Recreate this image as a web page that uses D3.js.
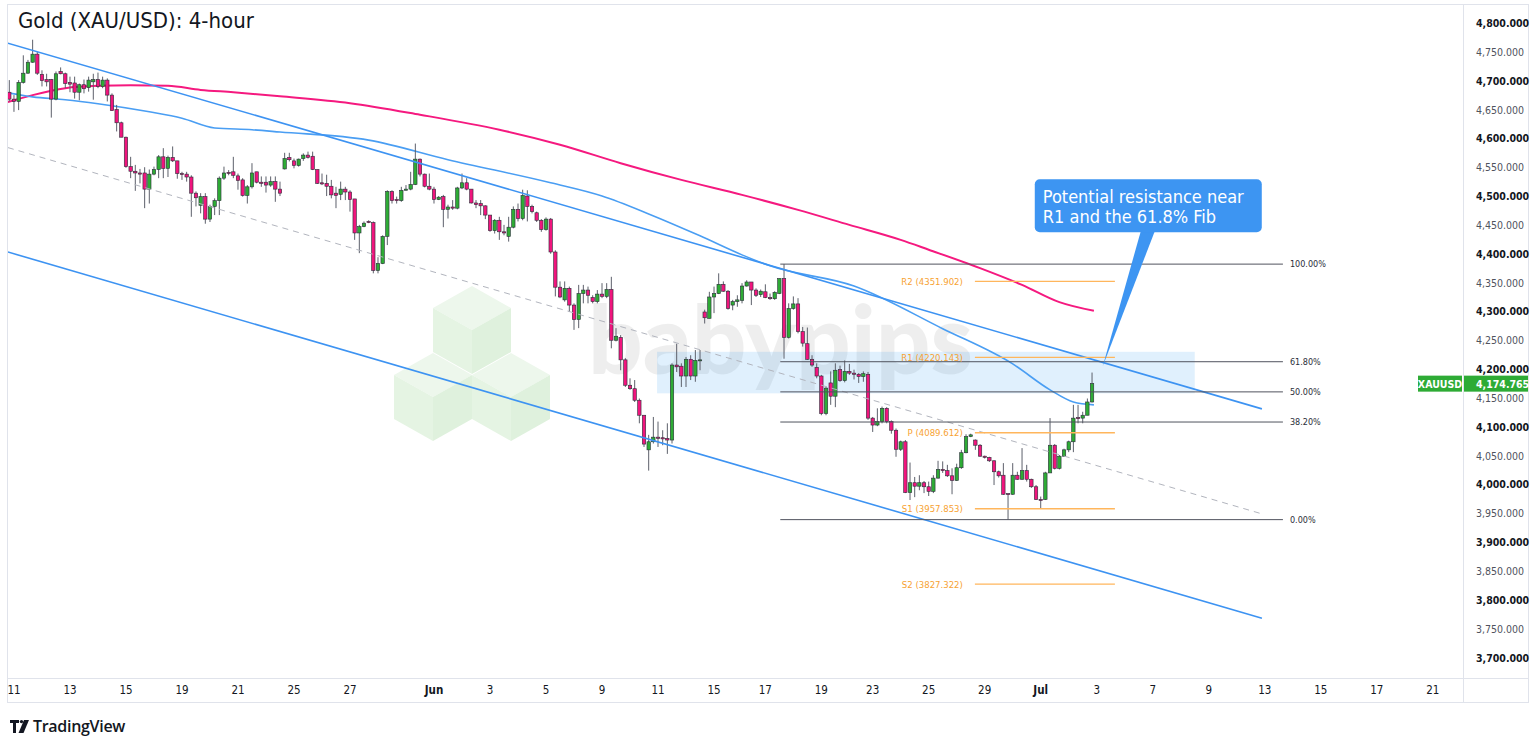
<!DOCTYPE html>
<html>
<head>
<meta charset="utf-8">
<title>Gold (XAU/USD): 4-hour</title>
<script src="https://cdn.jsdelivr.net/npm/d3@7"></script>
<style>
  body { margin: 0; background: #ffffff; }
  svg { display: block; }
</style>
</head>
<body>
<div id="chart"></div>
<script>
// 4-hour candles starting May 11
var opens = [
  4680,4668,4664,4697,4713,4732,4746,4711,4702,4702,
  4668,4716,4712,4697,4696,4680,4693,4688,4698,4702,
  4690,4701,4675,4650,4627,4602,4551,4543,4540,4540,
  4512,4538,4546,4568,4548,4567,4561,4539,4538,4533,
  4505,4484,4499,4460,4482,4492,4531,4541,4542,4535,
  4528,4501,4516,4542,4524,4524,4519,4525,4512,
  4547,4567,4561,4553,4565,4571,4569,4546,4523,4522,
  4517,4505,4503,4512,4507,4495,4436,4447,4456,4454,
  4371,4383,4430,4508,4494,4492,4510,4512,4520,4564,
  4538,4517,4512,4494,4499,4477,4481,4479,4514,4523,
  4512,4488,4487,4483,4467,4440,4458,4438,4430,4446,
  4477,4461,4500,4482,4471,4458,4442,4460,
  4403,4342,4320,4340,4311,4286,4331,4337,4324,4317,
  4330,4326,4338,4250,4255,4216,4172,4166,4146,4120,
  4060,4074,4082,4081,4080,4077,4207,4205,4188,4217,
  4188,4215,4299,4288,4325,4331,4347,4335,4311,4317,
  4319,4344,4351,4337,4329,4334,4324,4322,4331,4357,
  4255,4305,4313,4265,4244,4217,4203,4188,
  4123,4176,4153,4199,4180,4196,4193,4191,4187,4191,
  4115,4103,4109,4132,4109,4094,4061,4074,3986,4003,
  3997,4003,3996,3988,4011,4026,4024,4015,4007,4029,
  4055,4083,4077,4068,4049,4047,4041,4022,4016,3984,
  3983,4016,4009,4024,4009,3996,3974,3974,4020,4068,
  4028,4049,4060,4074,4116,4115,4120,4143
];
var highs = [
  4701,4675,4701,4744,4736,4771,4750,4718,4712,4703,
  4716,4723,4714,4707,4707,4695,4702,4707,4712,4714,
  4707,4704,4678,4658,4629,4603,4568,4554,4547,4550,
  4546,4551,4571,4583,4570,4586,4561,4542,4542,4536,
  4508,4505,4505,4485,4496,4534,4551,4545,4568,4539,
  4531,4519,4557,4542,4534,4534,4534,4534,4525,
  4575,4575,4565,4565,4574,4577,4577,4546,4539,4537,
  4528,4516,4525,4516,4510,4495,4450,4456,4458,4456,
  4394,4432,4510,4510,4499,4516,4519,4542,4591,4565,
  4539,4539,4516,4500,4502,4485,4493,4516,4539,4531,
  4512,4493,4493,4484,4467,4460,4464,4450,4464,4482,
  4487,4511,4510,4485,4473,4460,4463,4462,
  4406,4352,4352,4343,4314,4346,4346,4343,4328,4337,
  4349,4349,4360,4271,4259,4219,4184,4181,4149,4120,
  4086,4117,4109,4094,4106,4210,4244,4210,4221,4224,
  4233,4233,4303,4334,4343,4366,4352,4337,4320,4328,
  4349,4354,4351,4340,4338,4347,4331,4335,4357,4382,
  4314,4326,4323,4273,4272,4224,4210,4190,
  4170,4196,4210,4206,4215,4209,4199,4193,4196,4195,
  4117,4132,4135,4134,4111,4097,4076,4077,4038,4013,
  4016,4006,4005,4016,4041,4040,4034,4028,4036,4060,
  4087,4088,4078,4070,4050,4048,4042,4024,4037,3985,
  4037,4022,4063,4034,4010,3999,3979,4022,4115,4070,
  4051,4062,4076,4138,4138,4126,4149,4194
];
var lows = [
  4664,4646,4649,4695,4712,4731,4710,4690,4690,4636,
  4666,4711,4687,4680,4669,4666,4678,4681,4667,4687,
  4687,4664,4648,4612,4602,4549,4531,4509,4522,4479,
  4487,4536,4531,4531,4533,4559,4530,4528,4525,4464,
  4482,4470,4452,4455,4467,4467,4528,4536,4531,4511,
  4499,4487,4513,4522,4516,4506,4516,4490,4500,
  4546,4560,4548,4551,4561,4565,4545,4521,4519,4500,
  4496,4479,4493,4493,4473,4424,4401,4446,4453,4366,
  4366,4382,4415,4487,4487,4490,4510,4510,4519,4534,
  4515,4510,4487,4493,4446,4461,4476,4477,4512,4510,
  4487,4479,4467,4460,4438,4435,4424,4432,4421,4444,
  4456,4458,4456,4470,4455,4438,4440,4400,
  4326,4323,4317,4299,4268,4271,4314,4314,4314,4314,
  4323,4323,4236,4248,4198,4169,4164,4143,4106,4065,
  4024,4071,4065,4068,4053,4071,4195,4169,4169,4181,
  4178,4198,4279,4288,4297,4330,4334,4303,4302,4308,
  4314,4343,4311,4325,4325,4323,4320,4320,4330,4218,
  4253,4303,4262,4239,4216,4204,4184,4120,
  4120,4138,4134,4178,4177,4190,4182,4176,4178,4112,
  4091,4101,4106,4106,4088,4048,4058,3985,3973,3978,
  3990,3985,3980,3985,4010,4020,4013,3983,4006,4027,
  4054,4082,4060,4048,4045,4039,3999,4012,3982,3939,
  3982,4008,4008,4005,3994,3973,3959,3973,4066,4026,
  4026,4048,4056,4056,4106,4106,4120,4142
];
var closes = [
  4668,4664,4697,4713,4732,4746,4713,4700,4698,4668,
  4712,4712,4695,4694,4680,4693,4686,4701,4702,4690,
  4701,4675,4648,4627,4602,4551,4543,4540,4538,4512,
  4538,4546,4568,4548,4567,4561,4539,4538,4533,4505,
  4497,4499,4460,4482,4492,4531,4540,4540,4536,4527,
  4501,4516,4540,4524,4522,4519,4525,4512,4505,
  4565,4563,4553,4564,4571,4567,4546,4522,4521,4517,
  4502,4501,4512,4507,4494,4436,4447,4453,4454,4371,
  4383,4430,4508,4492,4492,4510,4512,4520,4564,4538,
  4517,4512,4494,4498,4477,4481,4479,4514,4523,4512,
  4488,4485,4483,4467,4440,4458,4438,4436,4446,4477,
  4461,4501,4482,4473,4458,4442,4460,4403,
  4342,4325,4340,4311,4286,4331,4337,4328,4317,4330,
  4326,4338,4250,4257,4216,4172,4166,4146,4120,4070,
  4074,4082,4080,4079,4077,4207,4204,4188,4217,4188,
  4215,4216,4289,4325,4331,4347,4335,4305,4317,4320,
  4344,4351,4337,4328,4335,4324,4322,4333,4357,4255,
  4305,4313,4265,4245,4217,4207,4188,4123,
  4167,4153,4198,4180,4196,4193,4191,4187,4192,4115,
  4103,4109,4132,4109,4094,4061,4074,3986,4003,3997,
  4003,3996,3988,4011,4026,4024,4015,4007,4029,4055,
  4083,4086,4068,4049,4047,4041,4022,4015,3983,3983,
  4016,4009,4024,4009,3996,3974,3973,4020,4068,4028,
  4049,4060,4074,4115,4114,4120,4143,4174.765
];

// date labels and the bar index under each
var dateLabels = ["11","13","15","19","21","25","27","Jun","3","5","9","11","15","17","19","23","25","29","Jul","3","7","9","13","15","17","21"];
var dateTicks  = [1,13,25,37,49,61,73,91,103,115,127,139,151,162,174,185,197,209,221,233,245,257,269,281,293,305];

// price axis ticks
var priceTicks = d3.range(3700, 4801, 50);

// moving averages as [bar, price]
var maBlue = [[-0.3,4679],[5,4672],[12,4667],[19,4660],[30,4646],[37,4635],[44,4618],[52,4615],[58,4611],
  [77,4597],[94,4563],[116,4523],[127,4500],[137,4469],[148,4431],[157,4398],[163,4379],[181,4344],
  [200,4270],[215,4209],[223,4164],[228,4143],[232.4,4138]];
var maPink = [[-0.3,4663],[5,4675],[12,4687],[19,4691],[26,4692],[34,4691],[41,4684],[48,4680],[58,4673],
  [73,4661],[88,4641],[105,4615],[118,4589],[131,4557],[144,4528],[157,4502],[169,4476],[180,4450],
  [191,4424],[197,4407],[208,4375],[217,4346],[225,4316],[232.4,4301]];

// channel drawn on the chart, [bar, price] ends
var channelTop = [[-0.3,4765],[268.4,4131]];
var channelMid = [[-0.3,4584],[268.4,3949]];
var channelLow = [[-0.3,4403],[268.4,3768]];

// fibonacci retracement
var fibHigh = 4382, fibLow = 3939;
var fibRatios = [1, 0.618, 0.5, 0.382, 0];
var fibLabels = ["100.00%","61.80%","50.00%","38.20%","0.00%"];
var fibBars = [165.2, 272.9];

// pivot points
var pivotNames = ["R2","R1","P","S1","S2"];
var pivotValues = [4351.902, 4220.143, 4089.612, 3957.853, 3827.322];
var pivotBars = [206.9, 236.9];

// resistance zone
var zonePrices = [4230, 4158];
var zoneBars = [138.8, 254];

var lastPrice = 4174.765;
var calloutTip = [234.3, 4205];

var W = 1536, H = 751;
var plotL = 8, plotR = 1463, plotT = 5, plotB = 678;

var x = d3.scaleLinear().domain([0, 300]).range([9.3, 9.3 + 300 * 4.667]);
var y = d3.scaleLinear().domain([3700, 4800]).range([657.5, 23]);

var svg = d3.select("#chart").append("svg")
  .attr("width", W).attr("height", H);

svg.append("defs").append("clipPath").attr("id", "plotclip")
  .append("rect").attr("x", plotL).attr("y", plotT)
  .attr("width", plotR - plotL).attr("height", plotB - plotT);

var plot = svg.append("g").attr("clip-path", "url(#plotclip)");

// watermark: cubes + babypips
var wm = plot.append("g");
function cube(cx, cy) {
  var r = 44, w = 39;
  var top = [[cx, cy - r], [cx + w, cy - r / 2], [cx, cy], [cx - w, cy - r / 2]];
  var left = [[cx - w, cy - r / 2], [cx, cy], [cx, cy + r], [cx - w, cy + r / 2]];
  var right = [[cx + w, cy - r / 2], [cx, cy], [cx, cy + r], [cx + w, cy + r / 2]];
  wm.append("polygon").attr("points", top.join(" ")).attr("fill", "#edf7ec");
  wm.append("polygon").attr("points", left.join(" ")).attr("fill", "#e5f4e3");
  wm.append("polygon").attr("points", right.join(" ")).attr("fill", "#dff1dd");
}
cube(472, 330); cube(433, 397); cube(511, 397);
wm.append("text").attr("x", 588).attr("y", 374)
  .attr("textLength", 385)
  .style("font-family", "Lato, 'Noto Sans', sans-serif")
  .style("font-weight", "900").style("font-size", "96px")
  .attr("fill", "#000").attr("fill-opacity", 0.065)
  .text("babypips");

// resistance zone
plot.append("rect")
  .attr("x", x(zoneBars[0])).attr("width", x(zoneBars[1]) - x(zoneBars[0]))
  .attr("y", y(zonePrices[0])).attr("height", y(zonePrices[1]) - y(zonePrices[0]))
  .attr("fill", "#2196f3").attr("fill-opacity", 0.14);

var line = d3.line().x(function(d){ return x(d[0]); }).y(function(d){ return y(d[1]); });
var curve = d3.line().x(function(d){ return x(d[0]); }).y(function(d){ return y(d[1]); }).curve(d3.curveMonotoneX);

// moving averages
plot.append("path").attr("d", curve(maPink)).attr("fill", "none")
  .attr("stroke", "#f5197f").attr("stroke-width", 2);
plot.append("path").attr("d", curve(maBlue)).attr("fill", "none")
  .attr("stroke", "#4a9ef3").attr("stroke-width", 1.6);

// candles
var bars = opens.map(function(o, i){ return {i: i, o: o, h: highs[i], l: lows[i], c: closes[i]}; });
var cg = plot.append("g");
cg.selectAll("line").data(bars).enter().append("line")
  .attr("x1", function(d){ return x(d.i); }).attr("x2", function(d){ return x(d.i); })
  .attr("y1", function(d){ return y(d.h); }).attr("y2", function(d){ return y(d.l); })
  .attr("stroke", "#5d606b").attr("stroke-width", 1);
cg.selectAll("rect").data(bars).enter().append("rect")
  .attr("x", function(d){ return x(d.i) - 1.7; }).attr("width", 3.4)
  .attr("y", function(d){ return y(Math.max(d.o, d.c)); })
  .attr("height", function(d){ return Math.max(1, Math.abs(y(d.o) - y(d.c))); })
  .attr("fill", function(d){ return d.c >= d.o ? "#2eab35" : "#f0157d"; })
  .attr("stroke", "#2a2e39").attr("stroke-width", 0.6);

// channel lines
plot.append("path").attr("d", line(channelMid)).attr("fill", "none")
  .attr("stroke", "#b2b5be").attr("stroke-width", 1).attr("stroke-dasharray", "6,5");
[channelTop, channelLow].forEach(function(c){
  plot.append("path").attr("d", line(c)).attr("fill", "none")
    .attr("stroke", "#3d93f2").attr("stroke-width", 1.6);
});

// fib levels
var fg = plot.append("g");
fibRatios.forEach(function(r, k){
  var p = fibLow + (fibHigh - fibLow) * r;
  fg.append("line")
    .attr("x1", x(fibBars[0])).attr("x2", x(fibBars[1]))
    .attr("y1", y(p)).attr("y2", y(p))
    .attr("stroke", "#50535e").attr("stroke-width", 1);
  fg.append("text").attr("x", x(fibBars[1]) + 7).attr("y", y(p))
    .attr("dominant-baseline", "central")
    .style("font-family", "'DejaVu Sans Condensed', 'DejaVu Sans', sans-serif")
    .style("font-size", "9px").attr("fill", "#2a2e39")
    .text(fibLabels[k]);
});

// pivot levels
var pg = plot.append("g");
pivotValues.forEach(function(v, k){
  pg.append("line")
    .attr("x1", x(pivotBars[0])).attr("x2", x(pivotBars[1]))
    .attr("y1", y(v)).attr("y2", y(v))
    .attr("stroke", "#ffb65c").attr("stroke-width", 1.3);
  pg.append("text").attr("x", x(pivotBars[0]) - 12).attr("y", y(v))
    .attr("text-anchor", "end").attr("dominant-baseline", "central")
    .style("font-family", "'DejaVu Sans Condensed', 'DejaVu Sans', sans-serif")
    .style("font-size", "9.5px").attr("fill", "#f7a232")
    .text(pivotNames[k] + " (" + v.toFixed(3) + ")");
});

// callout
var tipX = x(calloutTip[0]), tipY = y(calloutTip[1]);
var bx = tipX - 68, by = tipY - 187, bw = 227, bh = 53;
svg.append("path")
  .attr("d", "M" + (bx + 106) + "," + (by + bh - 1) + "L" + (bx + 120) + "," + (by + bh - 1) + "L" + tipX + "," + tipY + "Z")
  .attr("fill", "#3d95f2");
svg.append("rect").attr("x", bx).attr("y", by).attr("width", bw).attr("height", bh)
  .attr("rx", 5).attr("fill", "#3d95f2");
svg.append("text").attr("x", bx + 8).attr("y", by + 24)
  .style("font-family", "'DejaVu Sans Condensed', 'DejaVu Sans', sans-serif")
  .style("font-size", "18px").attr("fill", "#ffffff")
  .text("Potential resistance near");
svg.append("text").attr("x", bx + 8).attr("y", by + 44)
  .style("font-family", "'DejaVu Sans Condensed', 'DejaVu Sans', sans-serif")
  .style("font-size", "18px").attr("fill", "#ffffff")
  .text("R1 and the 61.8% Fib");

// frame
svg.append("rect").attr("x", 7.5).attr("y", 4.5).attr("width", 1521).attr("height", 698)
  .attr("fill", "none").attr("stroke", "#e0e3eb");
svg.append("line").attr("x1", plotR + 0.5).attr("x2", plotR + 0.5).attr("y1", 4.5).attr("y2", 702.5)
  .attr("stroke", "#e0e3eb");
svg.append("line").attr("x1", 7.5).attr("x2", 1528.5).attr("y1", plotB + 0.5).attr("y2", plotB + 0.5)
  .attr("stroke", "#e0e3eb");

// price axis
var yAxis = svg.append("g");
yAxis.selectAll("text").data(priceTicks).enter().append("text")
  .attr("x", 1476).attr("y", function(d){ return y(d); })
  .attr("dominant-baseline", "central")
  .style("font-family", "'DejaVu Sans Condensed', 'DejaVu Sans', sans-serif")
  .style("font-size", "10.5px")
  .style("font-weight", function(d){ return d % 100 === 0 ? "bold" : "normal"; })
  .attr("fill", function(d){ return d % 100 === 0 ? "#131722" : "#50535e"; })
  .text(function(d){ return d3.format(",.3f")(d); });

// last price tag
var ly = y(lastPrice);
svg.append("rect").attr("x", 1418).attr("y", ly - 8).attr("width", 44).attr("height", 16).attr("fill", "#2eab35");
svg.append("rect").attr("x", 1464).attr("y", ly - 8).attr("width", 64).attr("height", 16).attr("fill", "#2eab35");
svg.append("text").attr("x", 1440).attr("y", ly).attr("text-anchor", "middle").attr("dominant-baseline", "central")
  .style("font-family", "'DejaVu Sans Condensed', 'DejaVu Sans', sans-serif").style("font-size", "10.5px")
  .style("font-weight", "bold").attr("fill", "#fff").text("XAUUSD");
svg.append("text").attr("x", 1476).attr("y", ly).attr("dominant-baseline", "central")
  .style("font-family", "'DejaVu Sans Condensed', 'DejaVu Sans', sans-serif").style("font-size", "10.5px")
  .style("font-weight", "bold").attr("fill", "#fff").text(d3.format(",.3f")(lastPrice));

// date axis
var xAxis = svg.append("g");
xAxis.selectAll("text").data(dateTicks).enter().append("text")
  .attr("x", function(d){ return x(d); }).attr("y", 690)
  .attr("text-anchor", "middle").attr("dominant-baseline", "central")
  .style("font-family", "'Liberation Sans Narrow', 'DejaVu Sans Condensed', sans-serif")
  .style("font-size", "11.5px")
  .style("font-weight", function(d, k){ return isNaN(+dateLabels[k]) ? "bold" : "normal"; })
  .attr("fill", "#131722")
  .text(function(d, k){ return dateLabels[k]; });

// title
svg.append("text").attr("x", 18).attr("y", 28)
  .style("font-family", "'DejaVu Sans Condensed', 'DejaVu Sans', sans-serif")
  .style("font-size", "22px").attr("fill", "#131722")
  .text("Gold (XAU/USD): 4-hour");

// TradingView mark
var tv = svg.append("g").attr("transform", "translate(10,720)");
tv.append("path").attr("d", "M0,0H9V3H6V13H3V3H0Z").attr("fill", "#131722");
tv.append("circle").attr("cx", 11.5).attr("cy", 1.6).attr("r", 1.7).attr("fill", "#131722");
tv.append("path").attr("d", "M14,0H19L13.5,13H8.5Z").attr("fill", "#131722");
tv.append("text").attr("x", 23).attr("y", 12)
  .style("font-family", "'Open Sans', 'Noto Sans', sans-serif").style("font-size", "16px")
  .style("font-weight", "600").attr("fill", "#131722").attr("letter-spacing", "-0.3")
  .text("TradingView");
</script>
</body>
</html>
